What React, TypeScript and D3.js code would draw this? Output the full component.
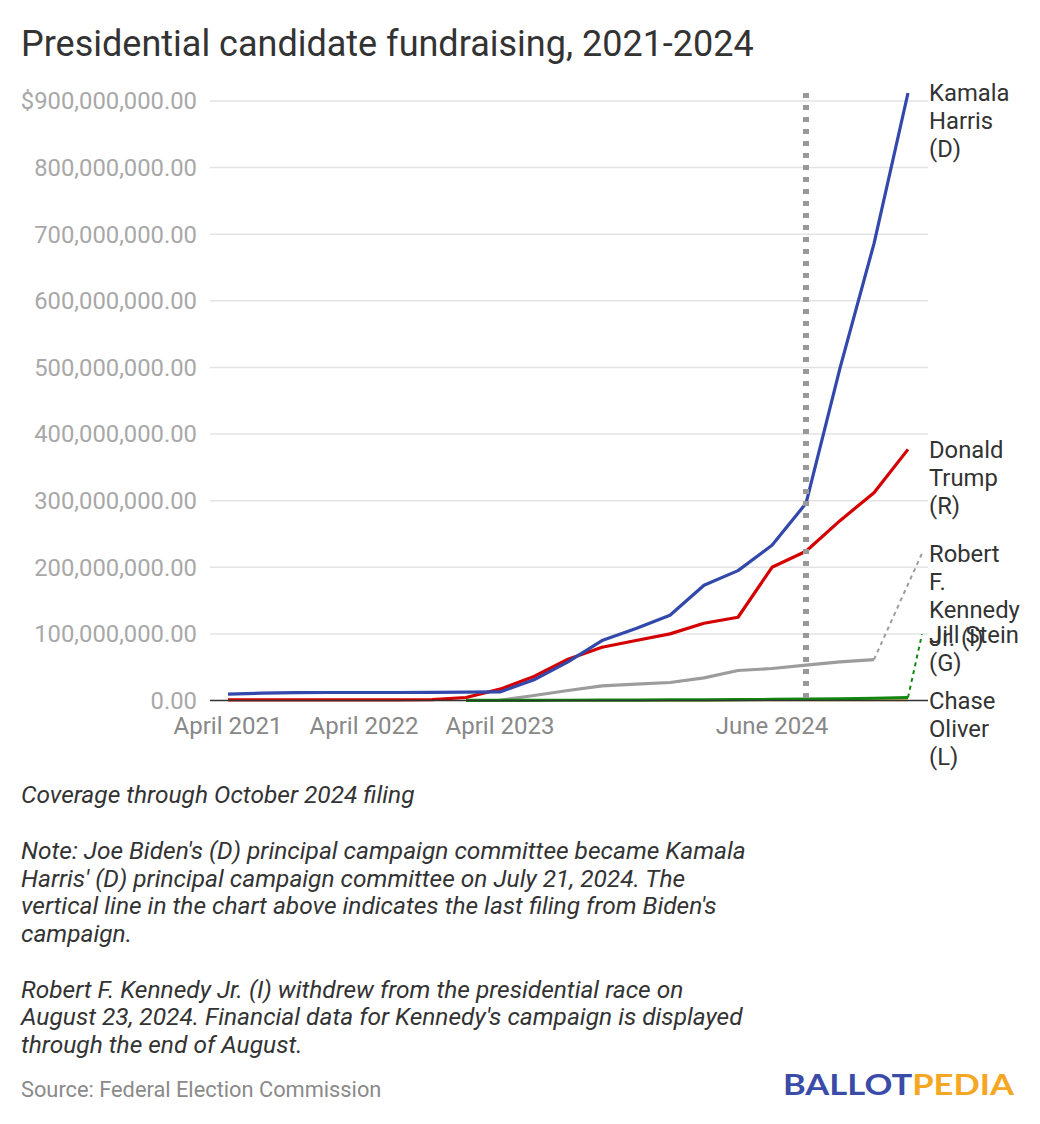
import React from 'react';
import * as d3 from 'd3';

// FEC filing periods (quarterly through 2023, monthly in 2024)
const periods = [
  'April 2021', 'July 2021', 'October 2021', 'January 2022',
  'April 2022', 'July 2022', 'October 2022', 'January 2023',
  'April 2023', 'July 2023', 'October 2023', 'January 2024',
  'February 2024', 'March 2024', 'April 2024', 'May 2024',
  'June 2024', 'July 2024', 'August 2024', 'September 2024', 'October 2024',
];
const tickPeriods = ['April 2021', 'April 2022', 'April 2023', 'June 2024'];

// cumulative receipts, millions of dollars
const harris = [9.5, 11, 11.8, 12, 12, 12, 12.3, 12.6, 12.8, 31, 58, 90, 108, 128, 173, 195, 233, 296, 499, 686, 912];
const trump = [1, 1, 1, 1, 1, 1, 1.2, 4.5, 17, 36, 62, 80, 90, 100, 116, 125, 200, 224, 270, 312, 377];
const kennedy = [null, null, null, null, null, null, null, null, 0.3, 7.5, 15, 22, 24.5, 27, 34, 45, 48, 53, 58, 61.5, null];
const stein = [null, null, null, null, null, null, null, 0.1, 0.2, 0.3, 0.4, 0.5, 0.6, 0.8, 1.0, 1.3, 1.6, 2.0, 2.6, 3.4, 4.5];
const oliver = [null, null, null, null, null, null, null, null, null, null, 0, 0.05, 0.1, 0.1, 0.15, 0.2, 0.2, 0.3, 0.3, 0.4, 0.5];

const yTicks = [0, 100, 200, 300, 400, 500, 600, 700, 800, 900];
const bidenLastFiling = 'July 2024';

type Series = {
  name: string[];
  values: (number | null)[];
  color: string;
  width: number;
  labelAt?: number; // label anchor in millions when pushed off the line end
};

const series: Series[] = [
  { name: ['Chase', 'Oliver', '(L)'], values: oliver, color: '#e9a23b', width: 2, labelAt: 0 },
  { name: ['Robert', 'F.', 'Kennedy', 'Jr. (I)'], values: kennedy, color: '#9c9c9c', width: 3.2, labelAt: 221 },
  { name: ['Jill Stein', '(G)'], values: stein, color: '#10880f', width: 3.2, labelAt: 99.5 },
  { name: ['Donald', 'Trump', '(R)'], values: trump, color: '#d40000', width: 3.2 },
  { name: ['Kamala', 'Harris', '(D)'], values: harris, color: '#3248aa', width: 3.2 },
];

const noteLines = [
  ['Coverage through October 2024 filing'],
  [
    "Note: Joe Biden's (D) principal campaign committee became Kamala",
    "Harris' (D) principal campaign committee on July 21, 2024. The",
    "vertical line in the chart above indicates the last filing from Biden's",
    'campaign.',
  ],
  [
    'Robert F. Kennedy Jr. (I) withdrew from the presidential race on',
    "August 23, 2024. Financial data for Kennedy's campaign is displayed",
    'through the end of August.',
  ],
];

const W = 1040;
const H = 1124;
const font = 'Roboto, "Noto Sans", sans-serif';

export default function App() {
  const x = d3.scalePoint<string>().domain(periods).range([228, 908]);
  const y = d3.scaleLinear().domain([0, 900]).range([700.5, 101]);
  const gridX0 = 210;
  const gridX1 = 928;
  const labelX = 929;
  const fmt = d3.format(',.2f');

  const line = d3
    .line<number | null>()
    .defined((d) => d != null)
    .x((_, i) => x(periods[i]) as number)
    .y((d) => y(d as number));

  const lastIndex = (vals: (number | null)[]) => {
    let k = vals.length - 1;
    while (vals[k] == null) k--;
    return k;
  };

  const vx = x(bidenLastFiling) as number;
  const vTop = y(d3.max(harris) as number);

  let noteY = 803;
  const notes: JSX.Element[] = [];
  noteLines.forEach((para, pi) => {
    para.forEach((t, li) => {
      notes.push(
        <text key={`n${pi}-${li}`} x={21} y={noteY} fontStyle="italic" fontSize={24.5} fill="#333">
          {t}
        </text>
      );
      noteY += 27.5;
    });
    noteY += 28.5;
  });

  return (
    <svg width={W} height={H} style={{ position: 'absolute', left: 0, top: 0, background: '#fff' }} fontFamily={font}>
      <text x={21} y={56} fontSize={36} fill="#333">
        Presidential candidate fundraising, 2021-2024
      </text>

      {/* gridlines and y labels */}
      {yTicks.map((t) => (
        <g key={t}>
          {t > 0 && <line x1={gridX0} x2={gridX1} y1={y(t)} y2={y(t)} stroke="#e3e3e3" strokeWidth={1.5} />}
          <text x={197} y={y(t)} dy="0.35em" textAnchor="end" fontSize={23.8} fill="#a8a8a8">
            {(t === 900 ? '$' : '') + fmt(t * 1e6)}
          </text>
        </g>
      ))}

      {/* x labels */}
      {tickPeriods.map((p) => (
        <text key={p} x={x(p)} y={734} textAnchor="middle" fontSize={24} fill="#888">
          {p}
        </text>
      ))}

      {/* series lines */}
      {series.map((s) => (
        <path key={s.name[0]} d={line(s.values) || ''} fill="none" stroke={s.color} strokeWidth={s.width} strokeLinejoin="round" />
      ))}

      {/* zero baseline */}
      <line x1={gridX0} x2={gridX1} y1={y(0)} y2={y(0)} stroke="#333" strokeWidth={1.5} />

      {/* last Biden filing marker */}
      <line x1={vx} x2={vx} y1={vTop} y2={y(0) - 2} stroke="#999" strokeWidth={6} strokeDasharray="5,7" />

      {/* end labels with connectors */}
      {series.map((s) => {
        const k = lastIndex(s.values);
        const px = x(periods[k]) as number;
        const py = y(s.values[k] as number);
        const ly = s.labelAt != null ? y(s.labelAt) : py;
        const moved = Math.abs(ly - py) > 4;
        return (
          <g key={'l' + s.name[0]}>
            {moved && (
              <line x1={px} y1={py} x2={labelX - 7} y2={ly} stroke={s.color} strokeWidth={2} strokeDasharray="4,4" />
            )}
            {s.name.map((t, j) => (
              <text key={t} x={labelX} y={ly + j * 28} dy="0.35em" fontSize={23.8} fill="#333">
                {t}
              </text>
            ))}
          </g>
        );
      })}

      {notes}

      <text x={21} y={1097} fontSize={21.8} fill="#8a8a8a">
        Source: Federal Election Commission
      </text>

      <text x={783} y={1095} fontFamily="Lato, 'Open Sans', sans-serif" fontWeight={700} fontSize={29} textLength={231} lengthAdjust="spacingAndGlyphs">
        <tspan fill="#3a4ba8">BALLOT</tspan>
        <tspan fill="#f5a623">PEDIA</tspan>
      </text>
    </svg>
  );
}
